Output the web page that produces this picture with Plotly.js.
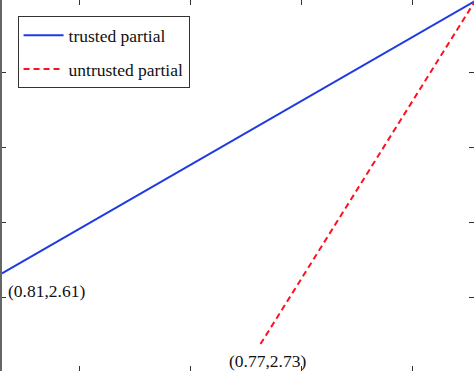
<!DOCTYPE html>
<html><head><meta charset="utf-8">
<script src="https://cdn.plot.ly/plotly-3.0.1.min.js"></script>
<style>html,body{margin:0;padding:0;background:#fff;overflow:hidden}</style>
</head><body>
<div id="chart" style="width:474px;height:371px"></div>
<script>
// Data (axis units; ticks at 1,2,3,4)
const seriesNames = ["trusted partial", "untrusted partial"];
const trustedX = [0.306, 4.56];
const trustedY = [1.32, 4.96];
const untrustedX = [2.63, 4.56];
const untrustedY = [0.373, 4.96];
const pointLabels = ["(0.81,2.61)", "(0.77,2.73)"];
const labelX = [0.34, 2.33];
const labelY = [1.08, 0.15];
const xTicks = [1, 2, 3, 4];
const yTicks = [1, 2, 3, 4];

const font = {family: "Liberation Serif, Times New Roman, serif", size: 17.5, color: "#111"};

const traces = [
  {x: trustedX, y: trustedY, mode: "lines", name: seriesNames[0], legendgroup: "a",
   line: {color: "#1f3ae0", width: 2}},
  {x: untrustedX, y: untrustedY, mode: "lines", name: seriesNames[1], legendgroup: "b",
   line: {color: "#ff1020", width: 2, dash: "6px,4px"}}
];

const layout = {
  width: 474, height: 371,
  margin: {l: 1, r: 0, t: 0, b: 0, pad: 0},
  paper_bgcolor: "#fff", plot_bgcolor: "#fff",
  font: font,
  showlegend: true,
  legend: {x: 0.035, y: 0.956, xanchor: "left", yanchor: "top",
    bgcolor: "#fff", bordercolor: "#333", borderwidth: 1,
    font: font, traceorder: "grouped", tracegroupgap: 8, itemwidth: 40},
  xaxis: {range: [0.297, 4.55], tickvals: xTicks, showticklabels: false,
    ticks: "inside", ticklen: 5, tickwidth: 1, tickcolor: "#333",
    mirror: "ticks", showline: false, showgrid: false, zeroline: false},
  yaxis: {range: [0.0133, 4.973], tickvals: yTicks, showticklabels: false,
    ticks: "inside", ticklen: 5, tickwidth: 1, tickcolor: "#333",
    mirror: "ticks", showline: false, showgrid: false, zeroline: false},
  shapes: [{type: "line", xref: "paper", yref: "paper", x0: 0, x1: 0, y0: 0, y1: 1,
    line: {color: "#666", width: 2}}],
  annotations: pointLabels.map((t, i) => ({x: labelX[i], y: labelY[i], text: t,
    xref: "x", yref: "y", xanchor: "left", yanchor: "middle", showarrow: false, font: font}))
};

Plotly.newPlot("chart", traces, layout, {displayModeBar: false, staticPlot: true});
</script>
</body></html>
